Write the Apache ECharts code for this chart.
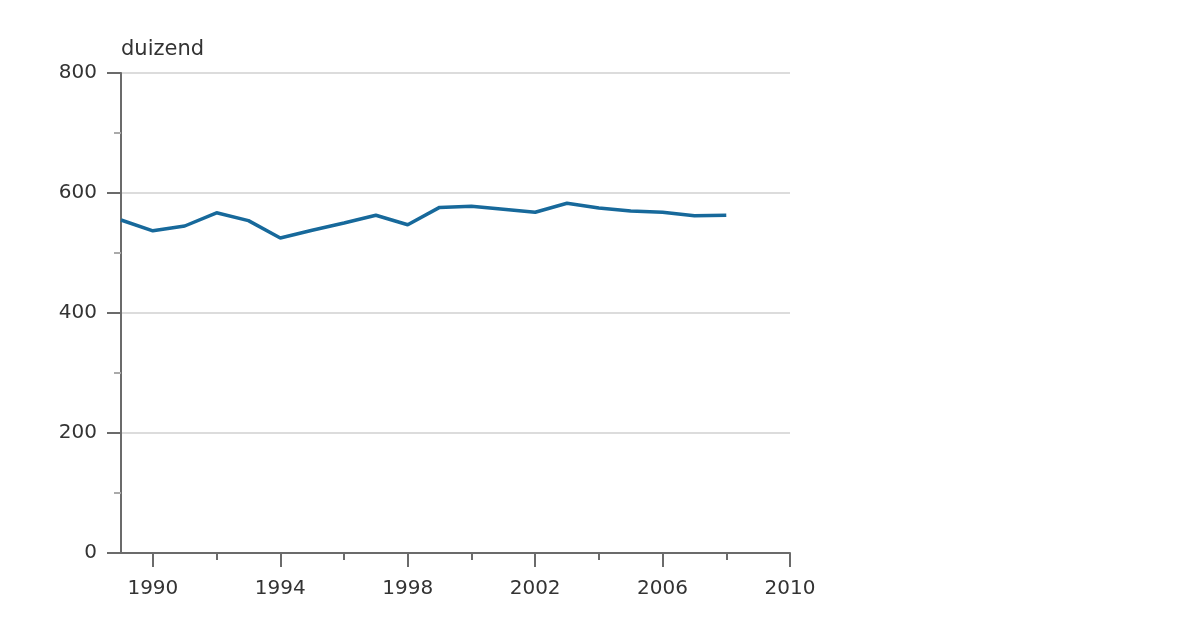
<!DOCTYPE html>
<html>
<head>
<meta charset="utf-8">
<script src="https://cdn.jsdelivr.net/npm/echarts@6/dist/echarts.min.js"></script>
<style>
	html, body { margin: 0; padding: 0; background: #fff; }
	#chart { width: 1200px; height: 630px; }
</style>
</head>
<body>
<div id="chart"></div>
<script>
var years = [1989, 1990, 1991, 1992, 1993, 1994, 1995, 1996, 1997, 1998,
	1999, 2000, 2001, 2002, 2003, 2004, 2005, 2006, 2007, 2008];
var values = [555, 537, 545, 567, 554, 525, 538, 550, 563, 547,
	576, 578, 573, 568, 583, 575, 570, 568, 562, 563];
var xLabels = [1990, 1994, 1998, 2002, 2006, 2010];
var xMinorTicks = [1992, 1996, 2000, 2004, 2008];
var yUnit = 'duizend';

var fontFamily = '"DejaVu Sans", sans-serif';
var textColor = '#333';
var axisGrey = '#6b6b6b';

var chart = echarts.init(document.getElementById('chart'));
var points = years.map(function (y, i) { return [y, values[i]]; });

var option = {
	animation: false,
	grid: { left: 121, right: 410, top: 73, bottom: 77 },
	xAxis: [{
		type: 'value',
		min: 1989,
		max: 2010,
		axisLine: { lineStyle: { color: axisGrey, width: 2 } },
		axisTick: { customValues: xLabels, length: 14, lineStyle: { color: axisGrey, width: 2 } },
		axisLabel: {
			customValues: xLabels, margin: 26, color: textColor,
			fontFamily: fontFamily, fontSize: 20,
			formatter: function (v) { return String(v); }
		},
		splitLine: { show: false }
	}, {
		type: 'value',
		min: 1989,
		max: 2010,
		position: 'bottom',
		axisLine: { show: false },
		axisTick: { customValues: xMinorTicks, length: 7, lineStyle: { color: axisGrey, width: 2 } },
		axisLabel: { show: false },
		splitLine: { show: false }
	}],
	yAxis: {
		type: 'value',
		min: 0,
		max: 800,
		interval: 200,
		name: yUnit,
		nameLocation: 'end',
		nameGap: 13,
		nameTextStyle: { align: 'left', color: textColor, fontFamily: fontFamily, fontSize: 21 },
		axisLine: { show: true, lineStyle: { color: axisGrey, width: 2 } },
		axisTick: { show: true, length: 14, lineStyle: { color: axisGrey, width: 2 } },
		minorTick: { show: true, splitNumber: 2, length: 7, lineStyle: { color: '#aaa', width: 2 } },
		axisLabel: { margin: 24, color: textColor, fontFamily: fontFamily, fontSize: 20 },
		splitLine: { lineStyle: { color: '#dcdcdc', width: 2 } }
	},
	series: [{
		type: 'line',
		data: points,
		symbol: 'none',
		lineStyle: { color: '#17699b', width: 3.5 }
	}]
};

chart.setOption(option);
</script>
</body>
</html>
